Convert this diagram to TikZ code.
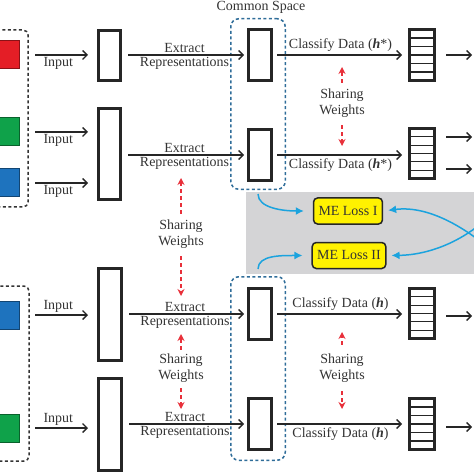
\documentclass[tikz,border=0pt]{standalone}
\usepackage{fontspec}
\setmainfont{Liberation Serif}
\usetikzlibrary{arrows.meta,calc}
\definecolor{tgray}{HTML}{333333}
\definecolor{sqred}{HTML}{E41E26}
\definecolor{sqgreen}{HTML}{0FA24A}
\definecolor{sqblue}{HTML}{1E73BE}
\definecolor{shred}{HTML}{E8303A}
\definecolor{csblue}{HTML}{2F6D99}
\definecolor{arrblue}{HTML}{1BA3DE}
\definecolor{lossbg}{HTML}{D4D4D6}
\definecolor{lossyel}{HTML}{FFF200}
\begin{document}
\begin{tikzpicture}[x=1bp,y=-1bp,
  font=\fontsize{14}{15.5}\selectfont, text=tgray,
  arr/.style={draw=black!85, line width=1.4bp, -{Straight Barb[length=4.5bp,width=9bp,line width=1.4bp]}},
  share/.style={draw=shred, line width=1.3bp, dash pattern=on 4bp off 3bp, -{Stealth[length=7bp,width=7bp]}},
  blarr/.style={draw=arrblue, line width=1.5bp, -{Latex[length=8bp,width=8bp]}},
  grpbox/.style={draw=black!80, line width=1.5bp, dash pattern=on 3bp off 2.5bp, rounded corners=5bp},
  csbox/.style={draw=csblue, line width=1.5bp, dash pattern=on 3bp off 2.5bp, rounded corners=8bp, inner sep=0pt},
  sq/.style={minimum width=28bp, minimum height=28bp, line width=1bp, inner sep=0pt},
  blk/.style={draw=black!85, line width=3bp, inner sep=0pt, fill=white},
  cls/.style={blk, path picture={\foreach \i in {1,...,5}
      \draw[black!85, line width=1.3bp]
        ($(path picture bounding box.north west)!\i/6!(path picture bounding box.south west)$) --
        ($(path picture bounding box.north east)!\i/6!(path picture bounding box.south east)$);}},
  loss/.style={draw=black!85, line width=1.5bp, fill=lossyel, rounded corners=4bp, minimum height=26bp, inner xsep=5bp},
  lbl/.style={inner sep=1.5bp},
  wts/.style={align=center, inner sep=3bp}
]
\useasboundingbox (0,0) rectangle (474,474);
\clip (0,0) rectangle (474,474);
\fill[lossbg] (246,192) rectangle (480,274);

% input groups
\draw[grpbox] (-20,30) rectangle (28,207);
\draw[grpbox] (-20,286) rectangle (29,461);
\node[sq, fill=sqred, draw=sqred!60!black] (S1) at (5,55) {};
\node[sq, fill=sqgreen, draw=sqgreen!60!black] (S2) at (5,132) {};
\node[sq, fill=sqblue, draw=sqblue!60!black] (S3) at (5,183) {};
\node[sq, fill=sqblue, draw=sqblue!60!black] (S4) at (5,315) {};
\node[sq, fill=sqgreen, draw=sqgreen!60!black] (S5) at (5,428) {};

% common space boxes
\node[csbox, minimum width=54.5bp, minimum height=170.5bp] (CS1) at (258,104) {};
\node[csbox, minimum width=54.5bp, minimum height=183.5bp] (CS2) at (258,368.5) {};
\node at (261,7) {Common Space};

% encoders
\node[blk, minimum width=22bp, minimum height=50bp] (E1) at (109.5,55.5) {};
\node[blk, minimum width=22bp, minimum height=91bp] (E2) at (109.5,154) {};
\node[blk, minimum width=23bp, minimum height=92bp] (E3) at (110,314.5) {};
\node[blk, minimum width=23bp, minimum height=92bp] (E4) at (110,424.5) {};

% common space representations
\node[blk, minimum width=23bp, minimum height=51bp] (C1) at (260,55) {};
\node[blk, minimum width=23bp, minimum height=51bp] (C2) at (260,155) {};
\node[blk, minimum width=23bp, minimum height=51bp] (C3) at (260,314) {};
\node[blk, minimum width=23bp, minimum height=51bp] (C4) at (260,424) {};

% classifiers
\node[cls, minimum width=25bp, minimum height=51bp] (K1) at (422,55) {};
\node[cls, minimum width=25bp, minimum height=50bp] (K2) at (422,153.5) {};
\node[cls, minimum width=25bp, minimum height=50bp] (K3) at (422,313.5) {};
\node[cls, minimum width=25bp, minimum height=51bp] (K4) at (422,424) {};

% input arrows
\draw[arr, shorten <=15.5bp, shorten >=9bp] (S1.east) -- (E1.west |- S1.east) node[midway, below, lbl] {Input};
\draw[arr, shorten <=15.5bp, shorten >=9bp] (S2.east) -- (E2.west |- S2.east) node[midway, below, lbl] {Input};
\draw[arr, shorten <=15.5bp, shorten >=9bp] (S3.east) -- (E2.west |- S3.east) node[midway, below, lbl] {Input};
\draw[arr, shorten <=15.5bp, shorten >=9bp] (S4.east) -- (E3.west |- S4.east) node[midway, above, lbl] {Input};
\draw[arr, shorten <=15.5bp, shorten >=9bp] (S5.east) -- (E4.west |- S5.east) node[midway, above, lbl] {Input};

% extract arrows
\draw[arr, shorten <=6bp, shorten >=3bp] (E1.east |- C1.west) -- (C1.west)
  node[midway, above, lbl] (X1) {Extract} node[midway, below, lbl] (R1) {Representations};
\draw[arr, shorten <=6bp, shorten >=3bp] (E2.east |- C2.west) -- (C2.west)
  node[midway, above, lbl] (X2) {Extract} node[midway, below, lbl] (R2) {Representations};
\draw[arr, shorten <=6bp, shorten >=3bp] (E3.east |- C3.west) -- (C3.west)
  node[midway, above, lbl] (X3) {Extract} node[midway, below, lbl] (R3) {Representations};
\draw[arr, shorten <=6bp, shorten >=3bp] (E4.east |- C4.west) -- (C4.west)
  node[midway, above, lbl] (X4) {Extract} node[midway, below, lbl] (R4) {Representations};

% classify arrows
\draw[arr, shorten <=4bp, shorten >=6bp] (C1.east) -- (K1.west |- C1.east)
  node[midway, above, inner sep=3bp] {Classify Data (\textbf{\textit{h}}*)};
\draw[arr, shorten <=4bp, shorten >=6bp] (C2.east) -- (K2.west |- C2.east)
  node[midway, below, inner sep=3bp] {Classify Data (\textbf{\textit{h}}*)};
\draw[arr, shorten <=4bp, shorten >=6bp] (C3.east) -- (K3.west |- C3.east)
  node[midway, above, inner sep=3bp] {Classify Data (\textbf{\textit{h}})};
\draw[arr, shorten <=4bp, shorten >=6bp] (C4.east) -- (K4.west |- C4.east)
  node[midway, below, inner sep=3bp] {Classify Data (\textbf{\textit{h}})};

% output arrows
\coordinate (O1) at (472,55);
\coordinate (O2a) at (472,137);
\coordinate (O2b) at (472,169);
\coordinate (O3) at (472,316);
\coordinate (O4) at (472,427);
\draw[arr, shorten <=10bp] (K1.east |- O1) -- (O1);
\draw[arr, shorten <=10bp] (K2.east |- O2a) -- (O2a);
\draw[arr, shorten <=10bp] (K2.east |- O2b) -- (O2b);
\draw[arr, shorten <=10bp] (K3.east |- O3) -- (O3);
\draw[arr, shorten <=10bp] (K4.east |- O4) -- (O4);

% sharing weights
\node[wts] (W1) at (181,234) {Sharing\\Weights};
\node[wts] (W2) at (342,103) {Sharing\\Weights};
\node[wts] (W3) at (181,368) {Sharing\\Weights};
\node[wts] (W4) at (342,368) {Sharing\\Weights};
\coordinate (T1u) at (181,178); \coordinate (T1d) at (181,296);
\coordinate (T2u) at (342,67);  \coordinate (T2d) at (342,146);
\coordinate (T3u) at (181,334); \coordinate (T3d) at (181,409);
\coordinate (T4u) at (342,332); \coordinate (T4d) at (342,409);
\draw[share, shorten <=3bp] (W1.north) -- (T1u);
\draw[share, shorten <=5bp] (W1.south) -- (T1d);
\draw[share, shorten <=3bp] (W2.north) -- (T2u);
\draw[share, shorten <=5bp] (W2.south) -- (T2d);
\draw[share, shorten <=1bp] (W3.north) -- (T3u);
\draw[share, shorten <=3bp] (W3.south) -- (T3d);
\draw[share, shorten <=6bp] (W4.north) -- (T4u);
\draw[share, shorten <=6bp] (W4.south) -- (T4d);

% losses
\node[loss] (L1) at (348,211) {ME Loss I};
\node[loss] (L2) at (349,255.5) {ME Loss II};
\draw[blarr, shorten >=9bp] ([yshift=-4bp]CS1.south) .. controls +(0,14) and +(-30,0) .. (L1.west);
\draw[blarr, shorten >=9bp] ([yshift=7bp]CS2.north) .. controls +(0,-14) and +(-30,0) .. (L2.west);
\coordinate (Y1) at (500,258);
\coordinate (Y2) at (500,205);
\draw[blarr, shorten >=5bp] (Y1) .. controls (470,230) and (430,205) .. (L1.east);
\draw[blarr, shorten >=5bp] (Y2) .. controls (470,240) and (430,255) .. (L2.east);
\end{tikzpicture}
\end{document}
